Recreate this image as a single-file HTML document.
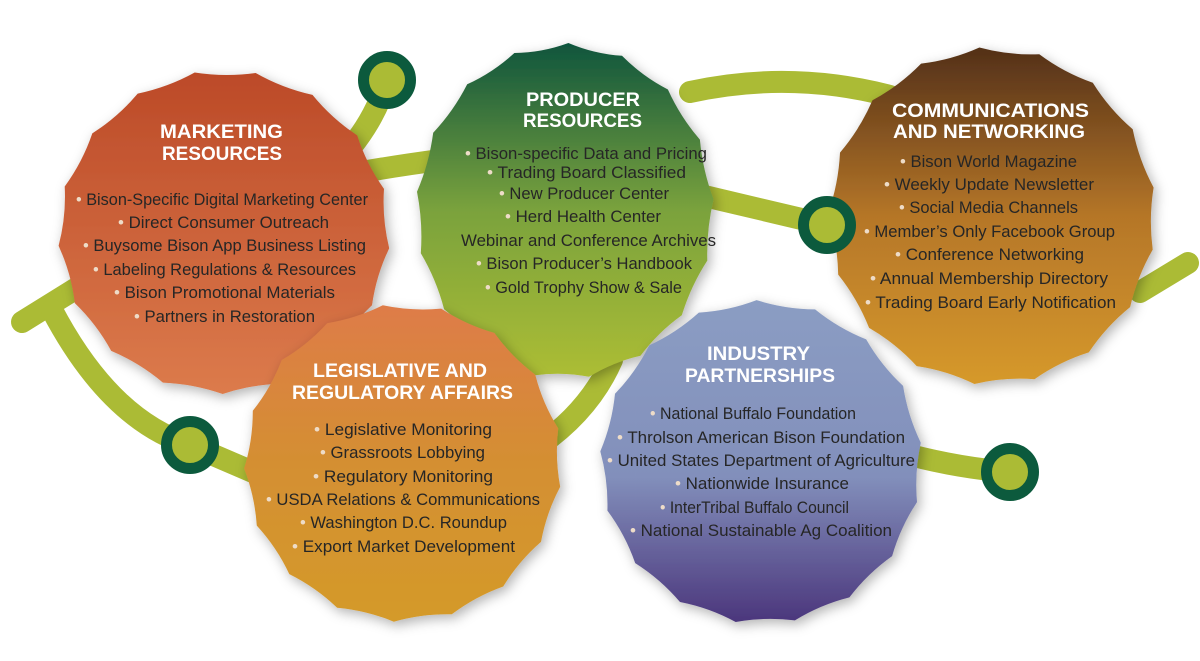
<!DOCTYPE html>
<html><head><meta charset="utf-8"><style>
html,body{margin:0;padding:0;background:#fff;width:1200px;height:661px;overflow:hidden}
svg{display:block}
.t{font-family:"Liberation Sans",sans-serif;font-weight:bold;fill:#fff;font-size:19px}
.i{font-family:"Liberation Sans Narrow","Liberation Sans",sans-serif;fill:#262626;font-size:17px}
.b{fill:#eedcc8}
</style></head><body>
<svg id="s" width="1200" height="661" viewBox="0 0 1200 661" xmlns="http://www.w3.org/2000/svg">
<defs>
<linearGradient id="gM" x1="0" y1="0" x2="0" y2="1"><stop offset="0" stop-color="#bc4a28"/><stop offset="1" stop-color="#dc7b4c"/></linearGradient>
<linearGradient id="gP" x1="0" y1="0" x2="0" y2="1"><stop offset="0" stop-color="#0f553d"/><stop offset="0.5" stop-color="#7aa23c"/><stop offset="1" stop-color="#acbd35"/></linearGradient>
<linearGradient id="gC" x1="0" y1="0" x2="0" y2="1"><stop offset="0" stop-color="#533018"/><stop offset="0.5" stop-color="#b57628"/><stop offset="1" stop-color="#d6992c"/></linearGradient>
<linearGradient id="gL" x1="0" y1="0" x2="0" y2="1"><stop offset="0" stop-color="#de7c48"/><stop offset="0.5" stop-color="#d48f32"/><stop offset="1" stop-color="#d49a2a"/></linearGradient>
<linearGradient id="gI" x1="0" y1="0" x2="0" y2="1"><stop offset="0" stop-color="#8b9dc3"/><stop offset="0.55" stop-color="#828fbb"/><stop offset="1" stop-color="#4b367c"/></linearGradient>
<filter id="sh" x="-20%" y="-20%" width="140%" height="140%"><feDropShadow dx="3" dy="4" stdDeviation="6" flood-color="#000" flood-opacity="0.3"/></filter>
</defs>
<g fill="none" stroke="#abbb35" stroke-width="22" stroke-linecap="round">
<path d="M387 80 Q372 130 330 170"/>
<path d="M330 178 Q380 168 440 160"/>
<path d="M690 92 Q790 70 890 96"/>
<path d="M700 195 L827 225"/>
<path d="M1140 292 L1188 263"/>
<path d="M22 322 L80 286"/>
<path d="M52 310 Q110 420 190 445 Q225 460 260 475"/>
<path d="M612 360 Q590 410 540 445"/>
<path d="M910 455 Q960 468 1010 472"/>
</g>
<g id="shapes"></g>
<g id="circles"></g>
<g id="txt"></g>
</svg>
<script>
function scal(cx,cy,rx,ry,n,ph){
  var d="",a,i;
  for(i=0;i<=n;i++){
    a=ph+i*2*Math.PI/n;
    var x=cx+rx*Math.cos(a),y=cy+ry*Math.sin(a);
    if(i==0){d+="M"+x.toFixed(1)+" "+y.toFixed(1);}
    else{
      var m=a-Math.PI/n;
      var qx=cx+rx*0.955*Math.cos(m),qy=cy+ry*0.955*Math.sin(m);
      d+=" Q"+qx.toFixed(1)+" "+qy.toFixed(1)+" "+x.toFixed(1)+" "+y.toFixed(1);
    }
  }
  return d+"Z";
}
var NS="http://www.w3.org/2000/svg";
var sh=document.getElementById("shapes");
[[224,232,166,162,"gM",0.1],[565,211,149,168,"gP",0.3],[992,216,164,169,"gC",0.2],[403,463,159,159,"gL",0.15],[761,462,161,162,"gI",0.25]].forEach(function(s){
  var p=document.createElementNS(NS,"path");
  p.setAttribute("d",scal(s[0],s[1],s[2],s[3],17,s[5]));
  p.setAttribute("fill","url(#"+s[4]+")");
  p.setAttribute("filter","url(#sh)");
  sh.appendChild(p);
});
var ci=document.getElementById("circles");
[[387,80],[827,225],[190,445],[1010,472]].forEach(function(c){
  var o=document.createElementNS(NS,"circle");
  o.setAttribute("cx",c[0]);o.setAttribute("cy",c[1]);o.setAttribute("r",23.5);
  o.setAttribute("fill","#abbb35");o.setAttribute("stroke","#0c5a3d");o.setAttribute("stroke-width",11);
  ci.appendChild(o);
});
var T=document.getElementById("txt");
function tx(cls,x1,x2,y,s){
  var t=document.createElementNS(NS,"text");
  t.setAttribute("class",cls);t.setAttribute("x",x1);t.setAttribute("y",y+(cls=="t"?7:6));
  t.setAttribute("textLength",x2-x1);t.setAttribute("lengthAdjust","spacingAndGlyphs");
  if(s.charAt(0)=="•"){
    var b=document.createElementNS(NS,"tspan");b.setAttribute("class","b");b.textContent="•";t.appendChild(b);
    t.appendChild(document.createTextNode(s.slice(1)));
  } else t.textContent=s;
  T.appendChild(t);
}
var L=[
["t",160,283,131,"MARKETING"],["t",162,282,153,"RESOURCES"],
["i",76,368,199,"• Bison-Specific Digital Marketing Center"],["i",118,329,222,"• Direct Consumer Outreach"],["i",83,366,245,"• Buysome Bison App Business Listing"],["i",93,356,269,"• Labeling Regulations & Resources"],["i",114,335,292,"• Bison Promotional Materials"],["i",134,315,316,"• Partners in Restoration"],
["t",526,640,99,"PRODUCER"],["t",523,642,120,"RESOURCES"],
["i",465,707,153,"• Bison-specific Data and Pricing"],["i",487,686,172,"•   Trading Board Classified"],["i",499,669,193,"• New Producer Center"],["i",505,661,216,"• Herd Health Center"],["i",461,716,240,"Webinar and Conference Archives"],["i",476,692,263,"• Bison Producer’s Handbook"],["i",485,682,287,"• Gold Trophy Show & Sale"],
["t",892,1089,110,"COMMUNICATIONS"],["t",893,1085,131,"AND NETWORKING"],
["i",900,1077,161,"• Bison World Magazine"],["i",884,1094,184,"• Weekly Update Newsletter"],["i",899,1078,207,"• Social Media Channels"],["i",864,1115,231,"• Member’s Only Facebook Group"],["i",895,1084,254,"• Conference Networking"],["i",870,1108,278,"• Annual Membership Directory"],["i",865,1116,302,"• Trading Board Early Notification"],
["t",313,487,370,"LEGISLATIVE AND"],["t",292,513,392,"REGULATORY AFFAIRS"],
["i",314,492,429,"• Legislative Monitoring"],["i",320,485,452,"• Grassroots Lobbying"],["i",313,493,476,"• Regulatory Monitoring"],["i",266,540,499,"• USDA Relations & Communications"],["i",300,507,522,"• Washington D.C. Roundup"],["i",292,515,546,"• Export Market Development"],
["t",707,810,353,"INDUSTRY"],["t",685,835,375,"PARTNERSHIPS"],
["i",650,856,413,"• National Buffalo Foundation"],["i",617,905,437,"• Throlson American Bison Foundation"],["i",607,915,460,"• United States Department of Agriculture"],["i",675,849,483,"• Nationwide Insurance"],["i",660,849,507,"• InterTribal Buffalo Council"],["i",630,892,530,"• National Sustainable Ag Coalition"]
];
L.forEach(function(l){tx(l[0],l[1],l[2],l[3],l[4]);});
</script>
</body></html>
